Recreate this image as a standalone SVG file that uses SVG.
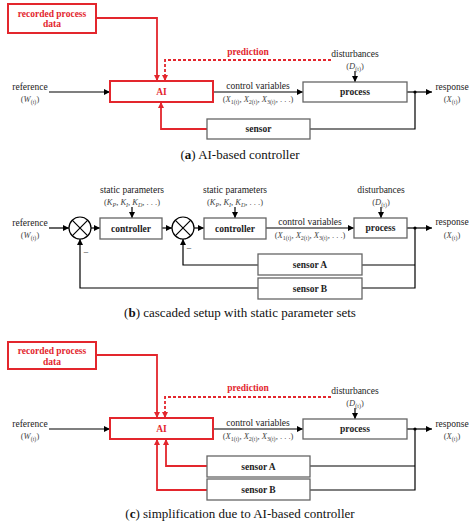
<svg xmlns="http://www.w3.org/2000/svg" width="474" height="524" viewBox="0 0 474 524" font-family="'Liberation Serif', 'DejaVu Serif', serif">
<defs>
<marker id="ab" viewBox="0 0 10 10" refX="10" refY="5" markerWidth="6" markerHeight="6" markerUnits="userSpaceOnUse" orient="auto"><path d="M0,0 L10,5 L0,10 z" fill="#000"/></marker>
<marker id="ar" viewBox="0 0 10 10" refX="10" refY="5" markerWidth="6" markerHeight="6" markerUnits="userSpaceOnUse" orient="auto"><path d="M0,0 L10,5 L0,10 z" fill="#e3262d"/></marker>
<style>
text{font-family:'Liberation Serif','DejaVu Serif',serif;}
.lbl{font-size:9.5px;fill:#222;text-anchor:middle;}
.m{font-size:8.5px;fill:#444;text-anchor:middle;}
.i{font-style:italic;}
.s{font-size:6px;}
.bx{fill:#fff;stroke:#666;stroke-width:1.3;}
.rbx{fill:#fff;stroke:#e3262d;stroke-width:2;}
.bt{font-size:9.5px;font-weight:bold;fill:#222;text-anchor:middle;}
.rt{font-size:9.5px;font-weight:bold;fill:#e3262d;text-anchor:middle;}
.cap{font-size:13px;fill:#111;text-anchor:middle;}
.k{fill:none;stroke:#000;stroke-width:1.2;}
.r{fill:none;stroke:#e3262d;stroke-width:1.8;}
.rd{fill:none;stroke:#e3262d;stroke-width:1.8;stroke-dasharray:3,2;}
.sum{fill:#fff;stroke:#000;stroke-width:1.2;}
</style>
</defs>

<!-- ===== Panel (a) ===== -->
<g id="connectors-a">
<path class="r" d="M96,18 H157 V81" marker-end="url(#ar)"/>
<path class="rd" d="M331,60 H165 V81" marker-end="url(#ar)"/>
<path class="k" d="M49,92 H110" marker-end="url(#ab)"/>
<path class="k" d="M213,92 H303" marker-end="url(#ab)"/>
<path class="k" d="M355,71 V82" marker-end="url(#ab)"/>
<path class="k" d="M407,92 H432" marker-end="url(#ab)"/>
<circle cx="415" cy="92" r="1.6" fill="#000"/>
<path class="k" d="M415,92 V129 H310"/>
<path class="r" d="M207,129 H161 V102" marker-end="url(#ar)"/>
</g>
<g id="a-rpd"><rect class="rbx" x="8" y="4" width="88" height="29"/><text class="rt" x="52" y="16.5">recorded process</text><text class="rt" x="52" y="27">data</text></g>
<g id="a-prediction"><text class="rt" x="248" y="55">prediction</text></g>
<g id="a-ai"><rect class="rbx" x="110" y="81" width="103" height="21"/><text class="rt" x="161.5" y="95">AI</text></g>
<g id="a-reference"><text class="lbl" x="30" y="90">reference</text><text class="m" x="30" y="102">(<tspan class="i">W</tspan><tspan class="s" dy="2">(t)</tspan><tspan dy="-2">)</tspan></text></g>
<g id="a-cv"><text class="lbl" x="258" y="89">control variables</text><text class="m" x="258" y="102">(<tspan class="i">X</tspan><tspan class="s" dy="2">1(t)</tspan><tspan dy="-2">, </tspan><tspan class="i">X</tspan><tspan class="s" dy="2">2(t)</tspan><tspan dy="-2">, </tspan><tspan class="i">X</tspan><tspan class="s" dy="2">3(t)</tspan><tspan dy="-2">, . . .)</tspan></text></g>
<g id="a-process"><rect class="bx" x="303" y="82" width="104" height="20"/><text class="bt" x="355" y="95">process</text></g>
<g id="a-dist"><text class="lbl" x="355" y="57">disturbances</text><text class="m" x="355" y="69">(<tspan class="i">D</tspan><tspan class="s" dy="2">(t)</tspan><tspan dy="-2">)</tspan></text></g>
<g id="a-response"><text class="lbl" x="452" y="90">response</text><text class="m" x="452" y="102">(<tspan class="i">X</tspan><tspan class="s" dy="2">(t)</tspan><tspan dy="-2">)</tspan></text></g>
<g id="a-sensor"><rect class="bx" x="207" y="119" width="103" height="20"/><text class="bt" x="258.5" y="132">sensor</text></g>
<text class="cap" x="240" y="159">(<tspan font-weight="bold">a</tspan>) AI-based controller</text>

<!-- ===== Panel (b) ===== -->
<g id="connectors-b">
<path class="k" d="M49,228 H69" marker-end="url(#ab)"/>
<path class="k" d="M91,228 H100" marker-end="url(#ab)"/>
<path class="k" d="M132,207 V218" marker-end="url(#ab)"/>
<path class="k" d="M162,228 H172" marker-end="url(#ab)"/>
<path class="k" d="M194,228 H204" marker-end="url(#ab)"/>
<path class="k" d="M235,207 V218" marker-end="url(#ab)"/>
<path class="k" d="M266,228 H354" marker-end="url(#ab)"/>
<path class="k" d="M381,207 V218" marker-end="url(#ab)"/>
<path class="k" d="M407,228 H432" marker-end="url(#ab)"/>
<circle cx="415" cy="228" r="1.6" fill="#000"/>
<path class="k" d="M415,228 V288 H362"/>
<path class="k" d="M415,265 H362"/>
<path class="k" d="M258,265 H183 V239" marker-end="url(#ab)"/>
<path class="k" d="M258,288 H80 V239" marker-end="url(#ab)"/>
</g>
<g id="b-reference"><text class="lbl" x="30" y="226">reference</text><text class="m" x="30" y="238">(<tspan class="i">W</tspan><tspan class="s" dy="2">(t)</tspan><tspan dy="-2">)</tspan></text></g>
<g id="b-sum1"><circle class="sum" cx="80" cy="228" r="11"/><path class="k" d="M72.2,220.2 L87.8,235.8 M87.8,220.2 L72.2,235.8"/><text class="lbl" x="86" y="256">−</text></g>
<g id="b-controller1"><rect class="bx" x="100" y="218" width="62" height="21"/><text class="bt" x="131" y="231.5">controller</text></g>
<g id="b-params1"><text class="lbl" x="132" y="193">static parameters</text><text class="m" x="132" y="205">(<tspan class="i">K</tspan><tspan class="s i" dy="2">P</tspan><tspan dy="-2">, </tspan><tspan class="i">K</tspan><tspan class="s i" dy="2">I</tspan><tspan dy="-2">, </tspan><tspan class="i">K</tspan><tspan class="s i" dy="2">D</tspan><tspan dy="-2">, . . .)</tspan></text></g>
<g id="b-sum2"><circle class="sum" cx="183" cy="228" r="11"/><path class="k" d="M175.2,220.2 L190.8,235.8 M190.8,220.2 L175.2,235.8"/><text class="lbl" x="189" y="252">−</text></g>
<g id="b-controller2"><rect class="bx" x="204" y="218" width="62" height="21"/><text class="bt" x="235" y="231.5">controller</text></g>
<g id="b-params2"><text class="lbl" x="235" y="193">static parameters</text><text class="m" x="235" y="205">(<tspan class="i">K</tspan><tspan class="s i" dy="2">P</tspan><tspan dy="-2">, </tspan><tspan class="i">K</tspan><tspan class="s i" dy="2">I</tspan><tspan dy="-2">, </tspan><tspan class="i">K</tspan><tspan class="s i" dy="2">D</tspan><tspan dy="-2">, . . .)</tspan></text></g>
<g id="b-cv"><text class="lbl" x="310" y="225">control variables</text><text class="m" x="310" y="238">(<tspan class="i">X</tspan><tspan class="s" dy="2">1(t)</tspan><tspan dy="-2">, </tspan><tspan class="i">X</tspan><tspan class="s" dy="2">2(t)</tspan><tspan dy="-2">, </tspan><tspan class="i">X</tspan><tspan class="s" dy="2">3(t)</tspan><tspan dy="-2">, . . .)</tspan></text></g>
<g id="b-process"><rect class="bx" x="354" y="218" width="53" height="20"/><text class="bt" x="380.5" y="231">process</text></g>
<g id="b-dist"><text class="lbl" x="381" y="193">disturbances</text><text class="m" x="381" y="205">(<tspan class="i">D</tspan><tspan class="s" dy="2">(t)</tspan><tspan dy="-2">)</tspan></text></g>
<g id="b-response"><text class="lbl" x="452" y="225">response</text><text class="m" x="452" y="238">(<tspan class="i">X</tspan><tspan class="s" dy="2">(t)</tspan><tspan dy="-2">)</tspan></text></g>
<g id="b-sensorA"><rect class="bx" x="258" y="254" width="104" height="21"/><text class="bt" x="310" y="268">sensor A</text></g>
<g id="b-sensorB"><rect class="bx" x="258" y="278" width="104" height="21"/><text class="bt" x="310" y="291.5">sensor B</text></g>
<text class="cap" x="240" y="317">(<tspan font-weight="bold">b</tspan>) cascaded setup with static parameter sets</text>

<!-- ===== Panel (c) ===== -->
<g id="connectors-c">
<path class="r" d="M96,355 H157 V418" marker-end="url(#ar)"/>
<path class="rd" d="M331,397 H165 V418" marker-end="url(#ar)"/>
<path class="k" d="M49,429 H110" marker-end="url(#ab)"/>
<path class="k" d="M213,429 H303" marker-end="url(#ab)"/>
<path class="k" d="M355,408 V419" marker-end="url(#ab)"/>
<path class="k" d="M407,429 H432" marker-end="url(#ab)"/>
<circle cx="415" cy="429" r="1.6" fill="#000"/>
<path class="k" d="M415,429 V490 H310"/>
<path class="k" d="M415,466 H310"/>
<path class="r" d="M207,466 H166 V439" marker-end="url(#ar)"/>
<path class="r" d="M207,490 H157 V439" marker-end="url(#ar)"/>
</g>
<g id="c-rpd"><rect class="rbx" x="8" y="342" width="88" height="27"/><text class="rt" x="52" y="353.5">recorded process</text><text class="rt" x="52" y="364.5">data</text></g>
<g id="c-prediction"><text class="rt" x="248" y="391">prediction</text></g>
<g id="c-ai"><rect class="rbx" x="110" y="418" width="103" height="21"/><text class="rt" x="161.5" y="432">AI</text></g>
<g id="c-reference"><text class="lbl" x="30" y="427">reference</text><text class="m" x="30" y="439">(<tspan class="i">W</tspan><tspan class="s" dy="2">(t)</tspan><tspan dy="-2">)</tspan></text></g>
<g id="c-cv"><text class="lbl" x="258" y="426">control variables</text><text class="m" x="258" y="439">(<tspan class="i">X</tspan><tspan class="s" dy="2">1(t)</tspan><tspan dy="-2">, </tspan><tspan class="i">X</tspan><tspan class="s" dy="2">2(t)</tspan><tspan dy="-2">, </tspan><tspan class="i">X</tspan><tspan class="s" dy="2">3(t)</tspan><tspan dy="-2">, . . .)</tspan></text></g>
<g id="c-process"><rect class="bx" x="303" y="419" width="104" height="20"/><text class="bt" x="355" y="432">process</text></g>
<g id="c-dist"><text class="lbl" x="355" y="394">disturbances</text><text class="m" x="355" y="406">(<tspan class="i">D</tspan><tspan class="s" dy="2">(t)</tspan><tspan dy="-2">)</tspan></text></g>
<g id="c-response"><text class="lbl" x="452" y="427">response</text><text class="m" x="452" y="439">(<tspan class="i">X</tspan><tspan class="s" dy="2">(t)</tspan><tspan dy="-2">)</tspan></text></g>
<g id="c-sensorA"><rect class="bx" x="207" y="456" width="103" height="21"/><text class="bt" x="258.5" y="470">sensor A</text></g>
<g id="c-sensorB"><rect class="bx" x="207" y="479" width="103" height="21"/><text class="bt" x="258.5" y="493">sensor B</text></g>
<text class="cap" x="240" y="518">(<tspan font-weight="bold">c</tspan>) simplification due to AI-based controller</text>
</svg>
